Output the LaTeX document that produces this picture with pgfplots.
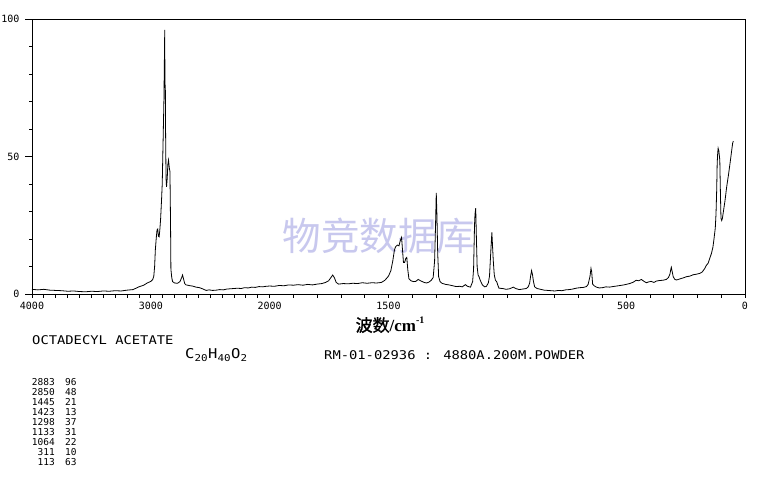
\documentclass[border=0pt]{standalone}
\usepackage{fontspec}
\usepackage{pgfplots}
\pgfplotsset{compat=1.18}
\usepackage{pgfplotstable}
\usepackage{graphicx}
\setmainfont{Liberation Serif}
\newfontfamily\cjk{Noto Sans CJK SC}
\newfontfamily\cjkb{Noto Sans CJK SC}[FakeBold=1.5]
\newfontfamily\mono{DejaVu Sans Mono}
\definecolor{wm}{RGB}{200,200,238}

% high-wavenumber part (4000-2000 cm-1), drawn at half scale
\pgfplotstableread{
w I
4000 1.7
3950 1.5
3900 1.7
3850 1.4
3800 1.3
3750 1.2
3700 1.0
3650 1.1
3600 0.9
3550 0.8
3500 1.0
3450 0.9
3400 1.1
3350 1.0
3300 1.2
3250 1.1
3200 1.4
3150 1.6
3100 2.6
3060 3.2
3030 4.0
3000 4.6
2985 5.2
2975 6.5
2968 10
2962 16
2955 20
2948 23.3
2942 23.6
2936 21
2930 20.8
2924 23.5
2918 27
2910 34
2904 40
2897 55
2890 70
2885 88
2883 96
2881 75
2878 76
2876 60
2872 42
2868 39
2862 42
2857 47
2851 48.7
2845 46
2839 44.5
2834 25
2831 9
2824 6
2817 4.5
2800 4.0
2775 3.9
2755 4.5
2742 5.8
2733 6.9
2725 5.5
2715 3.8
2704 3.3
2690 3.2
2670 3.0
2650 2.9
2620 2.5
2590 2.3
2560 1.8
2535 1.3
2510 1.5
2480 1.3
2450 1.4
2420 1.6
2390 1.5
2360 1.8
2330 1.9
2300 2.0
2270 2.1
2240 2.0
2210 2.3
2180 2.2
2150 2.5
2120 2.4
2090 2.7
2060 2.6
2030 2.8
2000 2.9
}\high

% low-wavenumber part (2000-0 cm-1)
\pgfplotstableread{
w I
2000 2.9
1980 2.8
1960 3.1
1940 3.0
1920 3.3
1900 3.2
1880 3.4
1860 3.2
1840 3.5
1820 3.3
1800 3.6
1780 3.8
1765 4.2
1752 4.8
1742 6.0
1735 6.9
1728 6.0
1720 4.2
1710 3.6
1690 3.8
1670 3.7
1650 3.9
1630 3.8
1610 4.1
1590 3.9
1570 4.1
1550 4.0
1530 4.2
1515 5.0
1500 6.5
1490 8.5
1482 12
1475 16
1470 17.2
1463 17.8
1456 17.5
1450 19.5
1445 20.6
1441 16
1437 11.5
1432 11.5
1427 13
1423 13.3
1419 9
1414 5.5
1405 4.8
1395 4.5
1385 4.6
1375 5.3
1365 4.8
1350 4.2
1340 4.0
1330 4.3
1320 5.0
1312 6.0
1306 12
1302 25
1299 36.8
1296 28
1293 15
1289 6.3
1283 4.5
1275 3.9
1260 3.5
1245 3.3
1230 3.0
1215 2.7
1200 2.8
1190 2.6
1183 3.0
1176 3.4
1168 2.8
1155 2.5
1146 4.5
1142 9
1138 25
1136 29
1133 31.2
1130 20
1127 10
1123 6.9
1119 6.3
1114 5.0
1105 3.3
1095 2.6
1088 2.8
1080 4.0
1075 6.5
1071 13
1068 18
1065 22.4
1062 17
1059 12
1055 7
1050 5
1045 4.5
1040 3.2
1035 2.1
1020 2.0
1005 1.7
990 1.9
975 2.5
965 2.0
950 1.6
935 1.8
920 2.0
912 2.6
906 4.0
902 6.5
898 8.5
894 7.0
890 4.5
885 2.6
875 2.0
860 1.7
845 1.4
830 1.3
815 1.2
800 1.1
785 1.3
770 1.2
755 1.5
740 1.6
725 1.8
711 2.1
695 2.3
680 2.4
667 2.7
660 3.5
652 6.5
648 9.3
645 8.0
641 3.6
635 3.0
625 2.5
613 2.2
600 2.3
585 2.6
570 2.5
556 2.7
540 2.9
525 3.1
510 3.3
500 3.5
485 3.8
470 4.3
458 5.0
447 4.8
436 5.3
425 4.6
415 4.1
405 4.4
395 4.6
383 4.2
373 4.7
360 4.9
345 5.0
331 5.3
322 6.0
316 7.2
312 9.0
310 9.7
306 8.0
302 6.3
296 5.4
289 5.1
280 5.3
270 5.6
258 5.9
246 6.3
232 6.5
218 7.0
204 7.2
190 7.5
180 8.0
169 9.3
162 10.5
155 11.2
148 13
141 14.8
135 17
131 19.6
125 24
122 29
119 38
117 47.5
115 51
113 53
110 52
106 48.7
103 35
101 27.5
98 26.7
95 27.5
90 30.5
84 34
77 39
70 43
63 47.5
57 51.5
52 54.8
49 55.6
}\low

\begin{document}
\begin{tikzpicture}[x=1pt,y=1pt]
\useasboundingbox (0,0) rectangle (761,477);
\fill[white] (0,0) rectangle (761,477);
% watermark
\node[text=wm, font=\cjk\fontsize{38.5}{38.5}\selectfont, inner sep=0pt] at (379,241) {物竞数据库};
\begin{axis}[
  at={(32pt,183pt)}, anchor=south west,
  scale only axis, width=713pt, height=275pt,
  xmin=0, xmax=3000, ymin=0, ymax=100,
  x dir=reverse,
  axis line style={line width=0.9pt},
  tick align=outside, tick pos=left,
  xtick={0,500,1500,2000,2500,3000},
  xticklabels={0,500,1500,2000,3000,4000},
  ytick={0,50,100}, yticklabels={0,50,100},
  major tick length=4pt, minor tick length=4pt,
  tick style={black, line width=0.8pt},
  ticklabel style={font=\mono\fontsize{10}{10}\selectfont},
  xticklabel style={yshift=-1pt},
  yticklabel style={xshift=-5pt},
]
\addplot[black, line width=0.8pt, mark=none] table[x expr=\thisrow{w}/2+1000, y=I] {\high};
\addplot[black, line width=0.8pt, mark=none] table[x=w, y=I] {\low};
\end{axis}
% tick marks (axis decoration)
\foreach \u in {0,100,200,300,400,500,600,700,800,900,1000,1100,1200,1300,1400,1500,1600,1700,1800,1900,2000,2050,2100,2150,2200,2250,2300,2350,2400,2450,2500,2550,2600,2650,2700,2750,2800,2850,2900,2950,3000}
  \draw[line width=0.8pt] ({745-\u*0.237667},183) -- ++(0,-3.8);
\foreach \v in {10,20,30,40,60,70,80,90}
  \draw[line width=0.8pt] (32,{183+\v*2.75}) -- ++(-3.5,0);
\draw[line width=0.8pt] (32,183) -- (25,183) (32,320.5) -- (25,320.5) (32,458) -- (25,458);
% x label
\node[font=\fontsize{17}{17}\selectfont, inner sep=0pt] at (390,152) {{\cjkb 波数}\textbf{/cm}\raisebox{1ex}{\fontsize{10}{10}\selectfont\textbf{-1}}};
% annotations
\node[anchor=west, inner sep=0pt, font=\mono\fontsize{12}{12}\selectfont] at (32,137) {\scalebox{1.15}[1]{OCTADECYL ACETATE}};
\node[anchor=west, inner sep=0pt, font=\mono\fontsize{13.5}{13.5}\selectfont] at (185,122) {\scalebox{1.15}[1]{C\textsubscript{20}H\textsubscript{40}O\textsubscript{2}}};
\node[anchor=west, inner sep=0pt, font=\mono\fontsize{12}{12}\selectfont] at (324,122) {\scalebox{1.15}[1]{RM-01-02936 : 4880A.200M.POWDER}};
% peak table
\foreach \a/\b [count=\i from 0] in {2883/96,2850/48,1445/21,1423/13,1298/37,1133/31,1064/22,311/10,113/63}{
  \node[anchor=east, inner sep=0pt, font=\mono\fontsize{9.5}{9.5}\selectfont] at (55,{95.3-10*\i}) {\a};
  \node[anchor=west, inner sep=0pt, font=\mono\fontsize{9.5}{9.5}\selectfont] at (65,{95.3-10*\i}) {\b};
}
\end{tikzpicture}
\end{document}
